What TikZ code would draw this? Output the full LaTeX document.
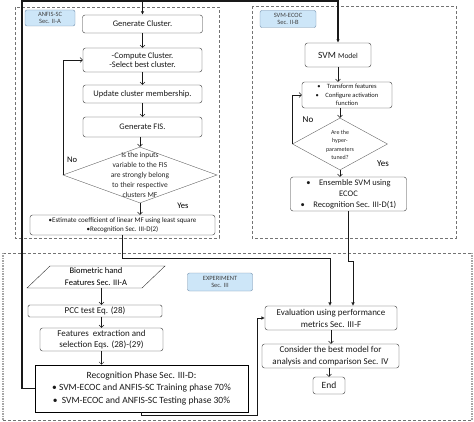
\documentclass[tikz,border=0pt]{standalone}
\usepackage{fontspec}
\setmainfont{Carlito}
\usetikzlibrary{shapes.geometric, arrows.meta}
\definecolor{tagblue}{RGB}{205,230,248}
\definecolor{tagedge}{RGB}{110,140,170}
\tikzset{
        box/.style={draw=black!80, rounded corners=2.5pt, align=center, inner sep=0pt, text=black!90}, % process boxes
        tag/.style={draw=tagedge, fill=tagblue, rounded corners=2pt, align=center, inner sep=0pt, text=black!75, font=\fontsize{6.5}{7.5}\selectfont},
        decision/.style={draw=black!60, diamond, inner sep=0pt},
        dtext/.style={align=center, inner sep=0pt, text=black!85},
        frame/.style={draw=black!55, dash pattern=on 3pt off 2pt},
        flow/.style={-{Straight Barb[length=2.5pt,width=5pt]}, draw=black!90},
        feed/.style={-{Latex[length=3.5pt,width=3.5pt]}, draw=black!90},
        fs/.style={font=\fontsize{#1}{#1pt+2.5pt}\selectfont},
}
\def\anfisframe{(15,7) rectangle (219,238)}
\def\svmframe{(252,6) rectangle (456,238)}
\def\expframe{(3,253) rectangle (472,420)}

\begin{document}
\begin{tikzpicture}[x=1pt,y=-1pt]
      \useasboundingbox (0,0) rectangle (474,422);
      % frames
      \draw[frame] \anfisframe;
      \draw[frame] \svmframe;
      \draw[frame] (3,253) -- (472,253) (3,420) -- (472,420);
      \draw[draw=black!35, line width=2pt, dash pattern=on 1.5pt off 1pt] (3,253) -- (3,420) (472,253) -- (472,420);

      % ANFIS-SC
      \node[tag, minimum width=50pt, minimum height=16pt] (tanfis) at (50,18) {ANFIS-SC\\Sec. II-A};
      \node[box, fs=8.5, minimum width=120pt, minimum height=18pt] (gen) at (142.5,24) {Generate Cluster.};
      \node[box, fs=8.5, minimum width=119pt, minimum height=24pt] (comp) at (142.5,60) {-Compute Cluster.\\-Select best cluster.};
      \node[box, fs=8.5, minimum width=119pt, minimum height=18pt] (upd) at (142.5,94) {Update cluster membership.};
      \node[box, fs=8.5, minimum width=119pt, minimum height=20pt] (fis) at (142.5,127) {Generate FIS.};
      \node[decision, minimum width=154pt, minimum height=56pt] (q1) at (140,175) {};
      \node[dtext, font=\fontsize{7.5}{10}\selectfont] (q1t) at (140,174.5) {Is the inputs\\variable to the FIS\\are strongly belong\\to their respective\\clusters MF};
      \node[box, font=\fontsize{7}{9}\selectfont, minimum width=185pt, minimum height=20pt] (est) at (122.5,225) {\textbullet Estimate coefficient of linear MF using least square\\\textbullet Recognition Sec. III-D(2)};
      \node[fs=8.5] (no1) at (72,160) {No};
      \node[fs=8.5] (yes1) at (183,206) {Yes};

      % SVM-ECOC
      \node[tag, minimum width=56pt, minimum height=17pt] (tsvm) at (288,19) {SVM-ECOC\\Sec. II-B};
      \node[box, minimum width=66pt, minimum height=24pt] (svm) at (338,55) {\fontsize{9.5}{11}\selectfont SVM \fontsize{7.5}{9}\selectfont Model};
      \node[box, font=\fontsize{6.5}{8.5}\selectfont, minimum width=90pt, minimum height=26pt] (tf) at (347,95) {\textbullet\quad Transform features\\\textbullet\quad Configure activation\\function};
      \node[decision, minimum width=95pt, minimum height=52pt] (q2) at (340,144) {};
      \node[dtext, font=\fontsize{6}{8.5}\selectfont] (q2t) at (340,145) {Are the\\hyper-\\parameters\\tuned?};
      \node[box, font=\fontsize{8.5}{11}\selectfont, minimum width=116pt, minimum height=34pt] (ens) at (348.5,194) {\textbullet\quad Ensemble SVM using\\ECOC\\\textbullet\quad Recognition Sec. III-D(1)};
      \node[fs=9] (no2) at (308,120) {No};
      \node[fs=9] (yes2) at (383,164) {Yes};

      % EXPERIMENT
      \node[tag, minimum width=65pt, minimum height=18pt] (texp) at (220,282) {EXPERIMENT\\Sec. III};
      \node[draw=black!80, trapezium, trapezium left angle=38, trapezium right angle=142, trapezium stretches body, minimum width=138pt, minimum height=22pt, inner sep=0pt, align=center, font=\fontsize{8.5}{12}\selectfont] (bio) at (96,277) {Biometric hand\\Features Sec. III-A};
      \node[box, rounded corners=1.5pt, fs=9, minimum width=134pt, minimum height=12pt] (pcc) at (95,311) {PCC test Eq. (28)};
      \node[box, font=\fontsize{9}{11}\selectfont, minimum width=123pt, minimum height=23pt] (feat) at (101.5,339.5) {Features\ \ extraction and\\selection Eqs. (28)-(29)};
      \node[box, rounded corners=0pt, draw=black, line width=0.8pt, font=\fontsize{9.5}{12.5}\selectfont, minimum width=213pt, minimum height=47pt] (rec) at (141.5,388.5) {Recognition Phase Sec. III-D:\\\textbullet\ SVM-ECOC and ANFIS-SC Training phase 70\%\\\textbullet\ \ SVM-ECOC and ANFIS-SC Testing phase 30\%};
      \node[box, font=\fontsize{9}{12}\selectfont, minimum width=132pt, minimum height=24pt] (eval) at (331,318) {Evaluation using performance\\metrics Sec. III-F};
      \node[box, font=\fontsize{9}{12}\selectfont, minimum width=137pt, minimum height=24pt] (cons) at (330.5,356) {Consider the best model for\\analysis and comparison Sec. IV};
      \node[box, fs=9.5, minimum width=32pt, minimum height=17pt] (end) at (329,385.5) {End};

      % connectors
      \coordinate (tl) at (22,1);
      \draw[feed, line width=1.1pt] (rec.west) -| (tl) -| (svm.north);
      \draw[feed, line width=1.1pt] (tl -| gen.north) -- (gen.north);
      \draw[flow] (gen) -- (comp);
      \draw[flow] (comp) -- (upd);
      \draw[flow] (upd) -- (fis);
      \draw[flow] (fis.south -| q1) -- (q1.north);
      \draw[flow] (q1.south) -- (q1.south |- est.north);
      \draw[flow] (q1.west) |- (comp.west);
      \draw[flow] (svm.south) -- (svm.south |- tf.north);
      \draw[flow] (tf.south -| q2) -- (q2.north);
      \draw[flow] (q2.south) -- (q2.south |- ens.north);
      \draw[flow] (q2.west) |- (tf.west);
      \draw[feed] (est.south) -- ++(0,23) -| ([xshift=-1pt]eval.north);
      \draw[feed] (ens.south) -- ++(0,50) -| ([xshift=22pt]eval.north);
      \draw[flow] (bio.south -| feat) -- (pcc.north -| feat);
      \draw[flow] (pcc.south -| feat) -- (feat.north);
      \draw[flow] (feat) -- (feat |- rec.north);
      \draw[feed] (rec.south) -- ++(0,3) -| ([xshift=-8pt]eval.west) -- (eval.west);
      \draw[flow] (eval) -- (eval |- cons.north);
      \draw[flow] (cons.south -| end) -- (end.north);
\end{tikzpicture}
\end{document}
